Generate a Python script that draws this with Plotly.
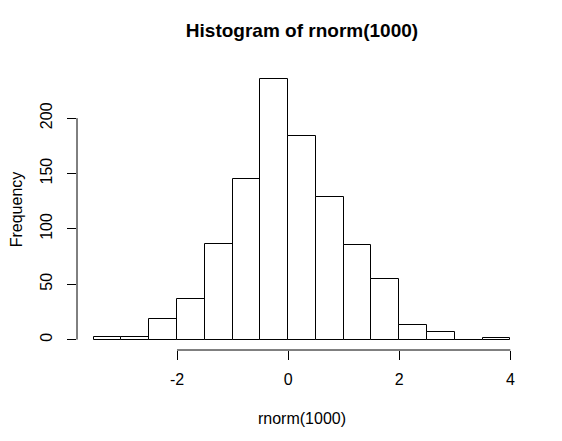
import plotly.graph_objects as go

# Histogram data (bins of width 0.5)
bin_left = [-3.5, -3.0, -2.5, -2.0, -1.5, -1.0, -0.5, 0.0, 0.5, 1.0, 1.5, 2.0, 2.5, 3.0, 3.5]
counts = [2, 2, 19, 37, 86, 145, 235, 184, 129, 85, 55, 13, 7, 0, 1]
bin_width = 0.5
x_ticks = [-2, 0, 2, 4]
y_ticks = [0, 50, 100, 150, 200]

centers = [b + bin_width / 2 for b in bin_left]

FONT = "Liberation Sans, Arial, sans-serif"

fig = go.Figure()
fig.add_trace(go.Bar(
    x=centers,
    y=counts,
    width=[bin_width] * len(centers),
    marker=dict(color="white", line=dict(color="black", width=1)),
    hoverinfo="x+y",
    showlegend=False,
))

xmin, xmax = bin_left[0], bin_left[-1] + bin_width
xpad = 0.04 * (xmax - xmin)
ymax = max(counts)
ypad = 0.04 * ymax

# R-style axis lines spanning only the tick range
fig.add_shape(type="line", xref="x", yref="paper",
              x0=min(x_ticks), x1=max(x_ticks), y0=0, y1=0,
              line=dict(color="black", width=1))
fig.add_shape(type="line", xref="paper", yref="y",
              x0=0, x1=0, y0=min(y_ticks), y1=max(y_ticks),
              line=dict(color="black", width=1))

fig.update_layout(
    width=562, height=441,
    margin=dict(l=69, r=43, t=61, b=99, autoexpand=False),
    paper_bgcolor="white", plot_bgcolor="white",
    font=dict(family=FONT, size=16, color="black"),
    title=dict(text="<b>Histogram of rnorm(1000)</b>",
               font=dict(family=FONT, size=19, color="black"),
               x=0.5, xref="paper", xanchor="center",
               y=1 - 22 / 441, yref="container", yanchor="middle"),
    bargap=0,
    xaxis=dict(range=[xmin - xpad, xmax + xpad], tickvals=x_ticks,
               ticktext=[str(t) for t in x_ticks], automargin=False,
               showgrid=False, zeroline=False, showline=False,
               ticks="outside", ticklen=9, tickcolor="black", tickwidth=1,
               ticklabelstandoff=6,
               title=dict(text="rnorm(1000)", standoff=25,
                          font=dict(family=FONT, size=16))),
    yaxis=dict(range=[-ypad, ymax + ypad], tickvals=y_ticks, automargin=False,
               showgrid=False, zeroline=False, showline=False,
               ticks="outside", ticklen=9, tickcolor="black", tickwidth=1,
               tickangle=-90, ticklabelstandoff=9,
               title=dict(text="Frequency", standoff=25,
                          font=dict(family=FONT, size=16))),
)

fig.write_html("out.html")
